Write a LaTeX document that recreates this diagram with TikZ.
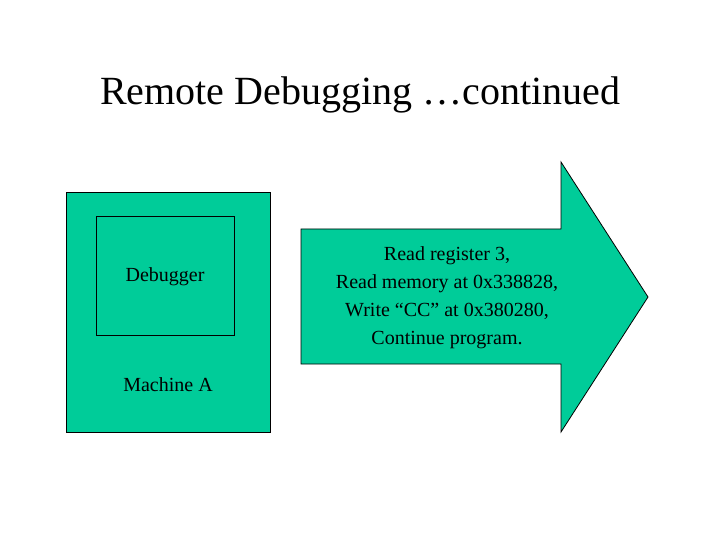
\documentclass[tikz,border=0pt]{standalone}
\usepackage{fontspec}
\setmainfont{Liberation Serif}
\begin{document}
\begin{tikzpicture}[x=1pt,y=-1pt,
  box/.style={draw=black,fill=teal0,line width=0.8pt},
  lbl/.style={font=\fontsize{20}{23}\selectfont,align=center}]
\definecolor{teal0}{RGB}{0,204,153}
\useasboundingbox (0,0) rectangle (720,540);
\node[font=\fontsize{40}{46}\selectfont] (title) at (360,95) {Remote Debugging …continued};
\draw[box] (66,192) rectangle (270,432);
\node[lbl] (ma) at (168,385) {Machine A};
\draw[box] (96,216) rectangle (234,335);
\node[lbl] (dbg) at (165,277) {Debugger};
\draw[box] (301,229) -- (561,229) -- (561,162) -- (648,297) -- (561,432) -- (561,364) -- (301,364) -- cycle;
\node[lbl,font=\fontsize{20}{28}\selectfont] (msg) at (447,298) {Read register 3,\\Read memory at 0x338828,\\Write “CC” at 0x380280,\\Continue program.};
\end{tikzpicture}
\end{document}
